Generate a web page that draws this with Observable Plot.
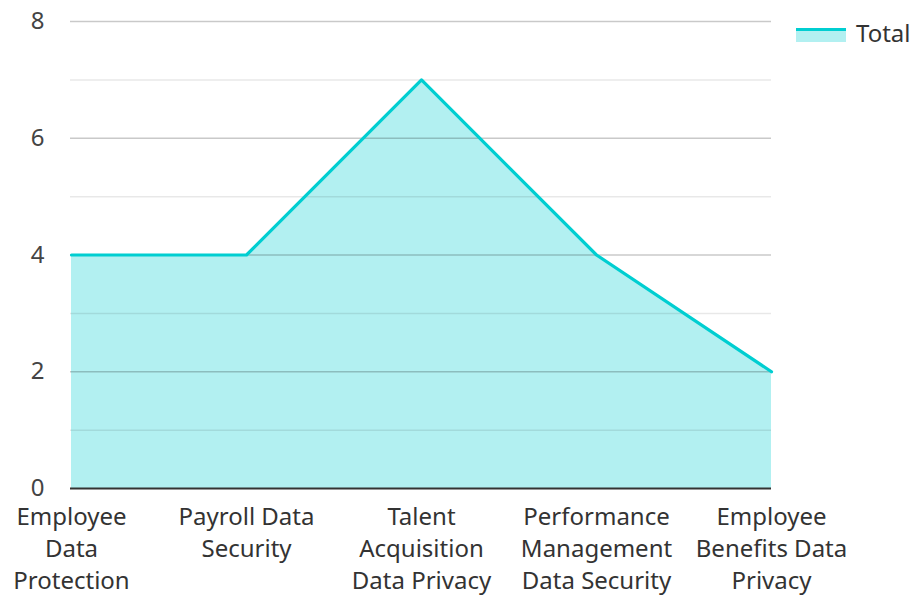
<!DOCTYPE html>
<html>
<head>
<meta charset="utf-8">
<script src="https://cdn.jsdelivr.net/npm/d3@7"></script>
<script src="https://cdn.jsdelivr.net/npm/@observablehq/plot@0.6"></script>
<style>
  body { margin: 0; background: #fff; font-family: "Noto Sans", sans-serif; }
  #wrap { position: relative; width: 913px; height: 595px; }
  #legend { position: absolute; left: 796px; top: 16px; display: flex; align-items: center; font-size: 24px; color: #333; }
  #legend .sw { width: 50px; height: 14px; background: rgba(0,206,209,0.3); border-top: 3px solid #00CED1; box-sizing: border-box; margin-right: 10px; margin-top: 4px; }
</style>
</head>
<body>
<div id="wrap"><div id="legend"><div class="sw"></div><span>Total</span></div></div>
<script>
const categories = ["Employee Data Protection", "Payroll Data Security", "Talent Acquisition Data Privacy", "Performance Management Data Security", "Employee Benefits Data Privacy"];
const tickLabels = ["Employee\nData\nProtection", "Payroll Data\nSecurity", "Talent\nAcquisition\nData Privacy", "Performance\nManagement\nData Security", "Employee\nBenefits Data\nPrivacy"];
const values = [4, 4, 7, 4, 2];
const majorTicks = [0, 2, 4, 6, 8];
const minorTicks = [1, 3, 5, 7];
const seriesName = "Total";

const data = categories.map((c, i) => ({cat: c, value: values[i]}));
const labelOf = new Map(categories.map((c, i) => [c, tickLabels[i]]));

const chart = Plot.plot({
  width: 913,
  height: 595,
  marginLeft: 70,
  marginRight: 142,
  marginTop: 21,
  marginBottom: 107,
  style: {fontFamily: "Noto Sans", fontSize: "24px", color: "#444", background: "transparent"},
  x: {type: "point", domain: categories, padding: 0},
  y: {domain: [0, 8]},
  marks: [
    Plot.areaY(data, {x: "cat", y: "value", fill: "#00CED1", fillOpacity: 0.3}),
    Plot.gridY(minorTicks, {stroke: "#000", strokeOpacity: 0.09, strokeWidth: 1.5}),
    Plot.gridY(majorTicks.filter(d => d > 0), {stroke: "#000", strokeOpacity: 0.21, strokeWidth: 1.5}),
    Plot.lineY(data, {x: "cat", y: "value", stroke: "#00CED1", strokeWidth: 3.2}),
    Plot.ruleY([0], {stroke: "#333", strokeWidth: 2}),
    Plot.axisY(majorTicks, {tickSize: 0, tickPadding: 26, label: null, fontSize: 24, fill: "#444", tickFormat: d => String(d)}),
    Plot.axisX({tickSize: 0, tickPadding: 14, label: null, fontSize: 24, fill: "#333", lineHeight: 1.333, tickFormat: d => labelOf.get(d)})
  ]
});
document.getElementById("wrap").prepend(chart);
chart.style.position = "absolute";
chart.style.left = "0";
chart.style.top = "0";
</script>
</body>
</html>
